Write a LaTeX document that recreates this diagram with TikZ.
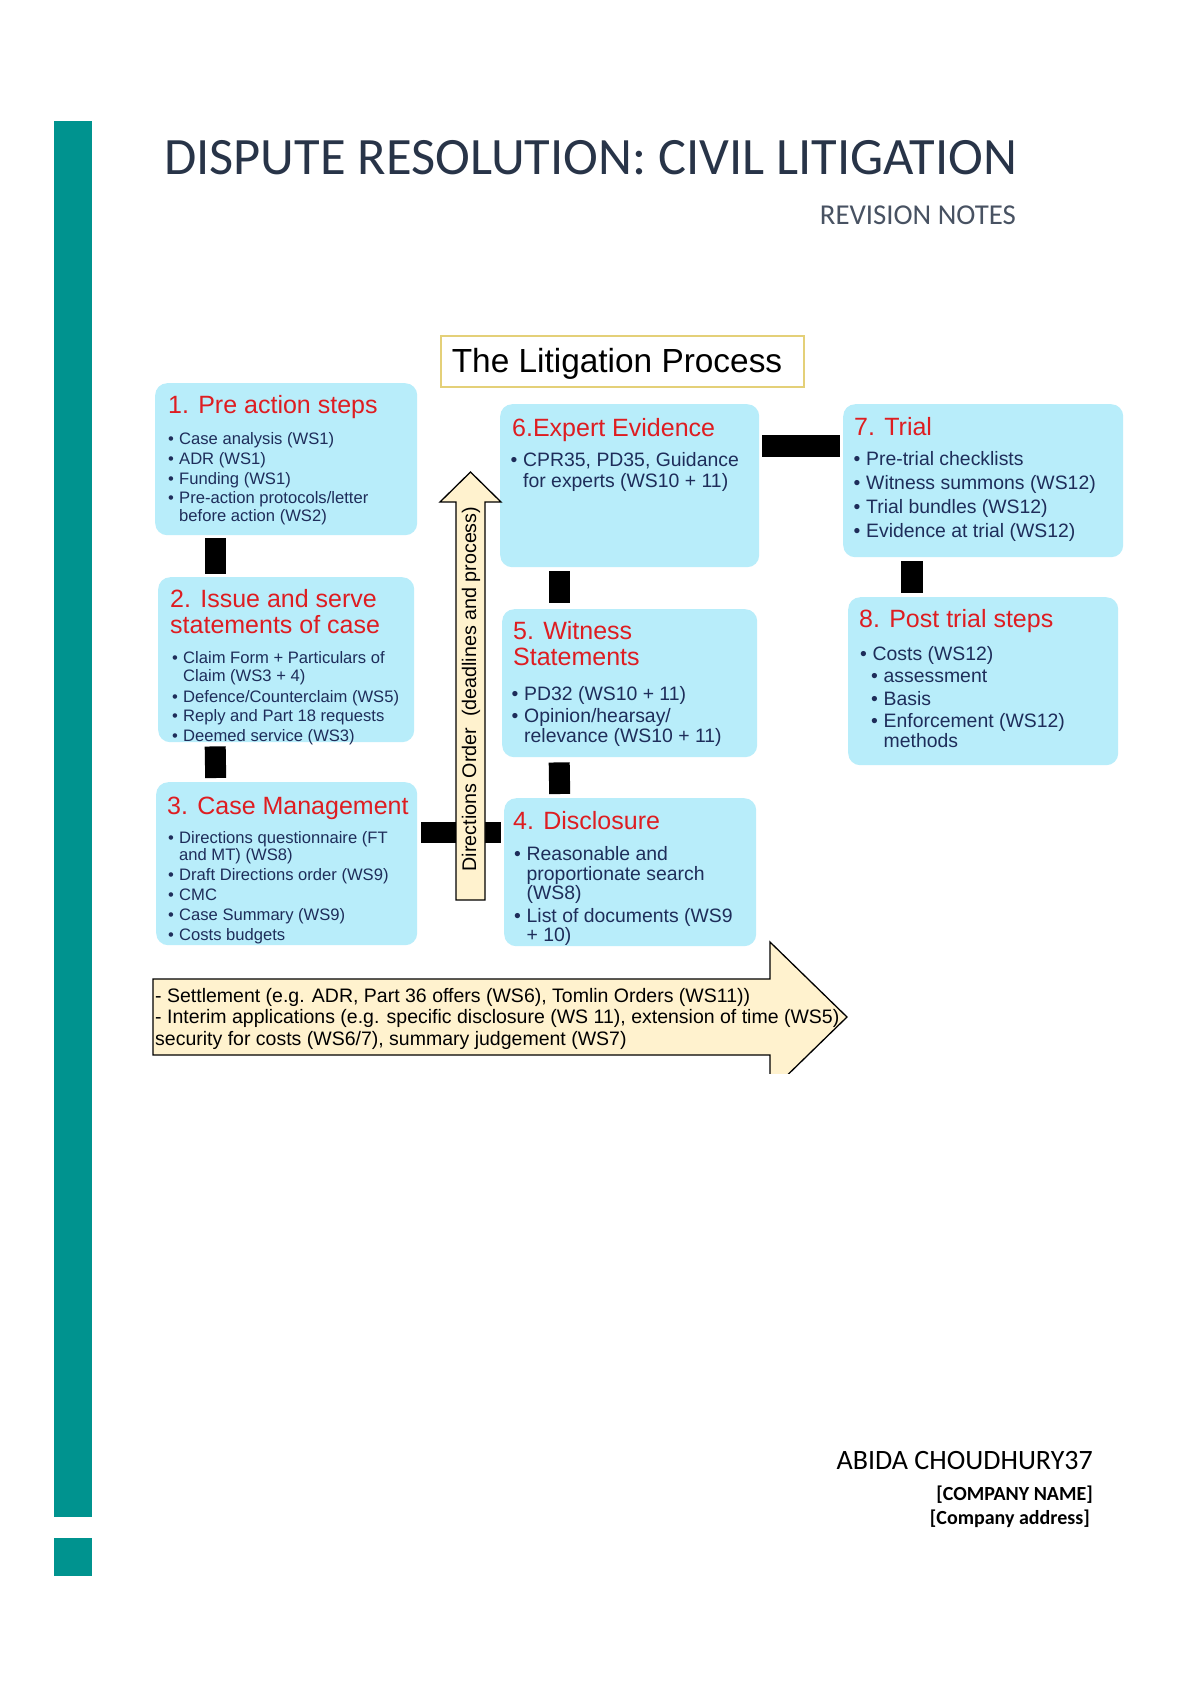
\documentclass[tikz,border=0pt]{standalone}
\usepackage{fontspec}
\setmainfont{Liberation Sans}
\newfontfamily\carlito{Carlito}
\definecolor{teal1}{RGB}{0,147,143}
\definecolor{titlec}{RGB}{40,52,72}
\definecolor{subc}{RGB}{72,82,98}
\definecolor{boxfill}{RGB}{184,237,250}
\definecolor{redt}{RGB}{222,29,33}
\definecolor{navy}{RGB}{30,45,90}
\definecolor{cream}{RGB}{255,242,206}
\definecolor{gold}{RGB}{228,208,120}
\newcommand\bu{\makebox[11pt][l]{\textbullet}}
\newcommand\nb{\makebox[11pt][l]{}}
\newcommand\bv{\makebox[12.5pt][l]{\textbullet}}
\newcommand\nv{\makebox[12.5pt][l]{}}
\tikzset{
  stepbox/.style={fill=boxfill, rounded corners=12pt, inner sep=0pt, anchor=north west},
  ttl/.style={inner sep=0pt, anchor=base west, text=redt, font=\fontsize{25}{26}\selectfont},
  itm/.style={inner sep=0pt, anchor=base west, text=navy},
  conn/.style={draw=black, line width=21pt},
  carl/.style={inner sep=0pt, font=\carlito}
}
\begin{document}
\begin{tikzpicture}[x=1pt,y=-1pt]
\useasboundingbox (0,0) rectangle (1200,1698);
\fill[white] (0,0) rectangle (1200,1698);
% side bars
\fill[teal1] (54,121) rectangle (92,1517);
\fill[teal1] (54,1538) rectangle (92,1576);
% header
\node[carl, anchor=base west, text=titlec, font=\carlito\fontsize{52.5}{60}\selectfont] (title) at (164,174) {DISPUTE RESOLUTION: CIVIL LITIGATION};
\node[carl, anchor=base east, text=subc, font=\carlito\fontsize{28.8}{34}\selectfont] (sub) at (1016,224) {REVISION NOTES};
% diagram title
\node[draw=gold, line width=1.6pt, fill=white, minimum width=363pt, minimum height=51pt, inner sep=0pt, anchor=north west] (ltbox) at (440,335) {};
\node[inner sep=0pt, anchor=base, font=\fontsize{33.4}{40}\selectfont] (lt) at (617,372) {The Litigation Process};
% boxes
\node[stepbox, minimum width=262pt, minimum height=152pt] (b1) at (155,383) {};
\node[stepbox, minimum width=256pt, minimum height=165pt] (b2) at (158,577) {};
\node[stepbox, minimum width=261pt, minimum height=163pt] (b3) at (156,782) {};
\node[stepbox, minimum width=259pt, minimum height=163pt] (b6) at (500,404) {};
\node[stepbox, minimum width=255pt, minimum height=148pt] (b5) at (502,609) {};
\node[stepbox, minimum width=252pt, minimum height=148pt] (b4) at (504,798) {};
\node[stepbox, minimum width=280pt, minimum height=153pt] (b7) at (843,404) {};
\node[stepbox, minimum width=270pt, minimum height=168pt] (b8) at (848,597) {};
% connectors
\draw[conn] ([xshift=-71pt,yshift=-3pt]b1.south) -- ([xshift=-71pt,yshift=3pt]b2.north);
\draw[conn] ([xshift=-71pt,yshift=-4pt]b2.south) -- ([xshift=-71pt,yshift=4pt]b3.north);
\draw[conn] ([xshift=-70.5pt,yshift=-4pt]b6.south) -- ([xshift=-70.5pt,yshift=6pt]b5.north);
\draw[conn] ([xshift=-70.5pt,yshift=-5pt]b5.south) -- ([xshift=-70.5pt,yshift=4pt]b4.north);
\draw[conn, line width=22pt] ([xshift=-71pt,yshift=-4pt]b7.south) -- ([xshift=-71pt,yshift=4pt]b8.north);
\coordinate (c34) at ([yshift=31pt]b3.east);
\draw[conn] ([xshift=4pt]c34) -- ([xshift=-3pt]c34 -| b4.west);
\coordinate (c67) at ([yshift=39.5pt]b6.east);
\draw[conn, line width=22pt] ([xshift=3pt]c67) -- ([xshift=-3pt]c67 -| b7.west);
% vertical arrow
\draw[fill=cream, line width=1.3pt, line join=miter] (456,900) -- (456,502) -- (440,502) -- (470.5,472) -- (501,502) -- (485,502) -- (485,900) -- cycle;
\node[inner sep=0pt, rotate=90, font=\fontsize{19.7}{22}\selectfont] (dtext) at (471,689) {Directions Order\ \ (deadlines and process)};
% box 1
\node[ttl] (h1) at (168,413) {1. Pre action steps};
\node[itm] (l1) at (168,444) {\fontsize{16.6}{19.5}\selectfont\begin{tabular}[t]{@{}l@{}}
\bu Case analysis (WS1)\\[0.5pt]
\bu ADR (WS1)\\[0.5pt]
\bu Funding (WS1)\\
\bu Pre-action protocols/letter\\[-1.5pt]
\nb before action (WS2)
\end{tabular}};
% box 2
\node[ttl] (h2) at (170,607) {\fontsize{25}{26}\selectfont\begin{tabular}[t]{@{}l@{}}2. Issue and serve\\ statements of case\end{tabular}};
\node[itm] (l2) at (172,663) {\fontsize{16.6}{19.5}\selectfont\begin{tabular}[t]{@{}l@{}}
\bu Claim Form + Particulars of\\[-1.5pt]
\nb Claim (WS3 + 4)\\[1.5pt]
\bu Defence/Counterclaim (WS5)\\
\bu Reply and Part 18 requests\\
\bu Deemed service (WS3)
\end{tabular}};
% box 3
\node[ttl] (h3) at (167,814) {3. Case Management};
\node[itm] (l3) at (168,843) {\fontsize{16.6}{20}\selectfont\begin{tabular}[t]{@{}l@{}}
\bu Directions questionnaire (FT\\[-3pt]
\nb and MT) (WS8)\\
\bu Draft Directions order (WS9)\\
\bu CMC\\
\bu Case Summary (WS9)\\
\bu Costs budgets
\end{tabular}};
% box 6
\node[ttl] (h6) at (512,436) {6.Expert Evidence};
\node[itm] (l6) at (510.5,466) {\fontsize{19.4}{21}\selectfont\begin{tabular}[t]{@{}l@{}}
\bv CPR35, PD35, Guidance\\
\nv for experts (WS10 + 11)
\end{tabular}};
% box 5
\node[ttl] (h5) at (513,639) {\fontsize{25}{26}\selectfont\begin{tabular}[t]{@{}l@{}}5. Witness\\ Statements\end{tabular}};
\node[itm] (l5) at (511.5,700) {\fontsize{19.4}{21}\selectfont\begin{tabular}[t]{@{}l@{}}
\bv PD32 (WS10 + 11)\\[1pt]
\bv Opinion/hearsay/\\[-1pt]
\nv relevance (WS10 + 11)
\end{tabular}};
% box 4
\node[ttl] (h4) at (513,829) {4. Disclosure};
\node[itm] (l4) at (514,860) {\fontsize{19.4}{20.5}\selectfont\begin{tabular}[t]{@{}l@{}}
\bv Reasonable and\\
\nv proportionate search\\[-1.5pt]
\nv (WS8)\\[2.5pt]
\bv List of documents (WS9\\[-1.5pt]
\nv + 10)
\end{tabular}};
% box 7
\node[ttl] (h7) at (854,435) {7. Trial};
\node[itm] (l7) at (853.5,465) {\fontsize{19.4}{24}\selectfont\begin{tabular}[t]{@{}l@{}}
\bv Pre-trial checklists\\
\bv Witness summons (WS12)\\
\bv Trial bundles (WS12)\\
\bv Evidence at trial (WS12)
\end{tabular}};
% box 8
\node[ttl] (h8) at (859,627) {8. Post trial steps};
\node[itm] (l8) at (860,660) {\fontsize{19.4}{22.5}\selectfont\begin{tabular}[t]{@{}l@{}}
\bv Costs (WS12)\\
\hspace{11pt}\bv assessment\\
\hspace{11pt}\bv Basis\\
\hspace{11pt}\bv Enforcement (WS12)\\[-2.5pt]
\hspace{11pt}\nv methods
\end{tabular}};
% bottom banner arrow
\begin{scope}
\clip (140,930) rectangle (880,1073);
\draw[fill=cream, line width=1.3pt, line join=miter] (153,979) -- (770,979) -- (770,942) -- (847,1017) -- (770,1092) -- (770,1055) -- (153,1055) -- cycle;
\end{scope}
\node[inner sep=0pt, anchor=base west] (bantext) at (155,1002) {\fontsize{19.5}{21.5}\selectfont\begin{tabular}[t]{@{}l@{}}
- Settlement (e.g. ADR, Part 36 offers (WS6), Tomlin Orders (WS11))\\
- Interim applications (e.g. specific disclosure (WS 11), extension of time (WS5)\\
security for costs (WS6/7), summary judgement (WS7)
\end{tabular}};
% footer
\node[carl, anchor=base east, text=black, font=\carlito\fontsize{28}{34}\selectfont] (author) at (1093,1469) {ABIDA CHOUDHURY37};
\node[carl, anchor=base east, text=black, font=\carlito\bfseries\fontsize{20}{24}\selectfont] (cname) at (1093,1500) {[COMPANY NAME]};
\node[carl, anchor=base east, text=black, font=\carlito\bfseries\fontsize{20}{24}\selectfont] (caddr) at (1090,1524) {[Company address]};
\end{tikzpicture}
\end{document}
